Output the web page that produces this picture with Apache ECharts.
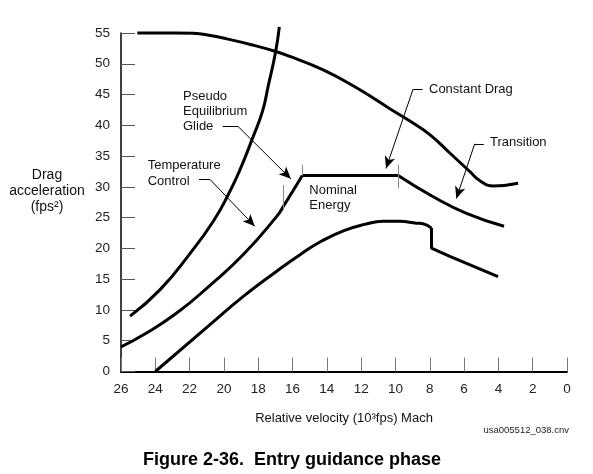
<!DOCTYPE html>
<html>
<head>
<meta charset="utf-8">
<script src="https://cdn.jsdelivr.net/npm/echarts@6/dist/echarts.min.js"></script>
<style>html,body{margin:0;padding:0;background:#fff}#chart{width:593px;height:474px}</style>
</head>
<body>
<div id="chart"></div>
<script>
// velocity [10^3 fps], drag [fps^2]
var velMin = 0, velMax = 26, velStep = 2
var dragMin = 0, dragMax = 55, dragStep = 5

// upper limit (flat at 55 then falling off)
var upperLimit = [[25.05,55],[22.8,55.0],[21.78,54.95],[20.8,54.6],[19.84,54.05],[18.4,53.1],[16.98,52.0],[16.15,51.2],[14.21,49.0],[12.27,46.1],[10.33,42.7],[9.16,40.7],[8.0,38.5],[6.83,35.5],[5.67,32.5],[5.08,31.0],[4.3,30.15],[2.85,30.6]]
// steep left boundary
var steepLimit = [[25.47,9.0],[23.72,13.3],[21.97,19.2],[20.6,24.5],[19.7,29.0],[19.06,32.8],[18.29,38.2],[17.75,42.3],[17.41,46.5],[17.0,51.75],[16.77,56.0]]
// nominal: temperature control + pseudo equilibrium glide
var nominalTempPeg = [[26,4.0],[24.69,5.96],[22.75,9.5],[20.81,14.0],[18.87,19.0],[16.92,25.2],[16.54,26.8],[15.43,31.85]]
var nominalConstDrag = [[15.43,31.85],[9.84,31.85]]
var nominalTransition = [[9.84,31.85],[7.8,28.4],[5.86,25.7],[3.67,23.6]]
// lower limit
var lowerLimit = [[24.0,0],[20.81,7.6],[18.87,12.2],[16.92,16.3],[15.5,19.1],[14.3,21.2],[13.0,22.9],[11.8,23.9],[10.72,24.4],[9.75,24.4],[8.77,24.1],[8.39,24.0],[7.9,23.3]]
var lowerLimitTail = [[7.9,23.3],[7.9,20.05],[6.83,18.7],[4.02,15.4]]

// phase boundaries on the nominal line
var phaseTicks = [[[16.55,30.3],[16.55,26.2]],[[15.43,33.6],[15.43,31.85]],[[9.84,33.6],[9.84,29.8]]]
// label leaders: short stub + arrow
var leaderStubs = [[[20.08,39.8],[19.17,39.8]],[[21.45,31.2],[20.81,31.2]],[[8.42,45.9],[8.97,45.9]],[[4.85,37.0],[5.38,37.0]]]
var leaderArrows = [[[19.17,39.8],[16.1,31.3]],[[20.81,31.2],[18.2,23.6]],[[8.97,45.9],[10.55,33.0]],[[5.38,37.0],[6.45,28.1]]]

var FONT = '"Liberation Sans", Arial, sans-serif'

function curve(data, smooth) {
    return {
        type: 'line', data: data, smooth: smooth ? 0.5 : false,
        showSymbol: false, symbol: 'none', clip: false, silent: true,
        lineStyle: { color: '#000', width: 3 }, z: 3
    }
}
function segs(list) {
    return list.map(function (s) { return [{ coord: s[0] }, { coord: s[1] }] })
}
function marks(list, arrow, color) {
    return {
        type: 'line', data: [], silent: true,
        markLine: {
            silent: true, animation: false,
            symbol: ['none', arrow ? 'arrow' : 'none'], symbolSize: [8, 12],
            label: { show: false },
            lineStyle: { color: color, width: 1, type: 'solid' },
            emphasis: { disabled: true },
            data: segs(list)
        }
    }
}

var chart = echarts.init(document.getElementById('chart'))
chart.setOption({
    animation: false,
    backgroundColor: '#fff',
    textStyle: { fontFamily: FONT },
    grid: { left: 121, right: 26, top: 33, bottom: 102.5 },
    xAxis: {
        type: 'value', inverse: true, min: velMin, max: velMax, interval: velStep,
        name: 'Relative velocity (10³fps) Mach', nameLocation: 'middle', nameGap: 40,
        nameTextStyle: { color: '#111', fontSize: 13, fontFamily: FONT },
        axisLine: { show: true, onZero: false, lineStyle: { color: '#000', width: 2 } },
        axisTick: { show: true, inside: true, length: 14, lineStyle: { color: '#777', width: 1 } },
        axisLabel: { color: '#222', fontSize: 13.5, margin: 11, fontFamily: FONT },
        splitLine: { show: false }
    },
    yAxis: {
        type: 'value', min: dragMin, max: dragMax, interval: dragStep,
        axisLine: { show: true, onZero: false, lineStyle: { color: '#000', width: 1.5 } },
        axisTick: { show: true, inside: true, length: 14, lineStyle: { color: '#555', width: 1 } },
        axisLabel: { color: '#222', fontSize: 13.5, margin: 11, fontFamily: FONT },
        splitLine: { show: false }
    },
    title: {
        text: 'Figure 2-36.  Entry guidance phase', left: 138, top: 446,
        textStyle: { fontSize: 18, fontWeight: 'bold', color: '#000', fontFamily: FONT }
    },
    graphic: [
        { type: 'text', x: 47, y: 191.5, style: { text: 'Drag\nacceleration\n(fps²)', font: '14px ' + FONT, fill: '#111', align: 'center', verticalAlign: 'middle', lineHeight: 16 } },
        { type: 'text', x: 569, y: 430, style: { text: 'usa005512_038.cnv', font: '9.5px ' + FONT, fill: '#222', align: 'right', verticalAlign: 'middle' } },
        { type: 'text', x: 183, y: 88.5, style: { text: 'Pseudo\nEquilibrium\nGlide', font: '13px ' + FONT, fill: '#111', lineHeight: 15.3 } },
        { type: 'text', x: 147.7, y: 158, style: { text: 'Temperature\nControl', font: '13px ' + FONT, fill: '#111', lineHeight: 15.3 } },
        { type: 'text', x: 309.3, y: 182.5, style: { text: 'Nominal\nEnergy', font: '13px ' + FONT, fill: '#111', lineHeight: 15.3 } },
        { type: 'text', x: 429, y: 82.5, style: { text: 'Constant Drag', font: '13px ' + FONT, fill: '#111' } },
        { type: 'text', x: 490, y: 136, style: { text: 'Transition', font: '13px ' + FONT, fill: '#111' } }
    ],
    series: [
        curve(upperLimit, true),
        curve(steepLimit, true),
        curve(nominalTempPeg, true),
        curve(nominalConstDrag, false),
        curve(nominalTransition, true),
        curve(lowerLimit, true),
        curve(lowerLimitTail, false),
        marks(phaseTicks, false, '#888'),
        marks(leaderStubs, false, '#000'),
        marks(leaderArrows, true, '#000')
    ]
})
</script>
</body>
</html>
